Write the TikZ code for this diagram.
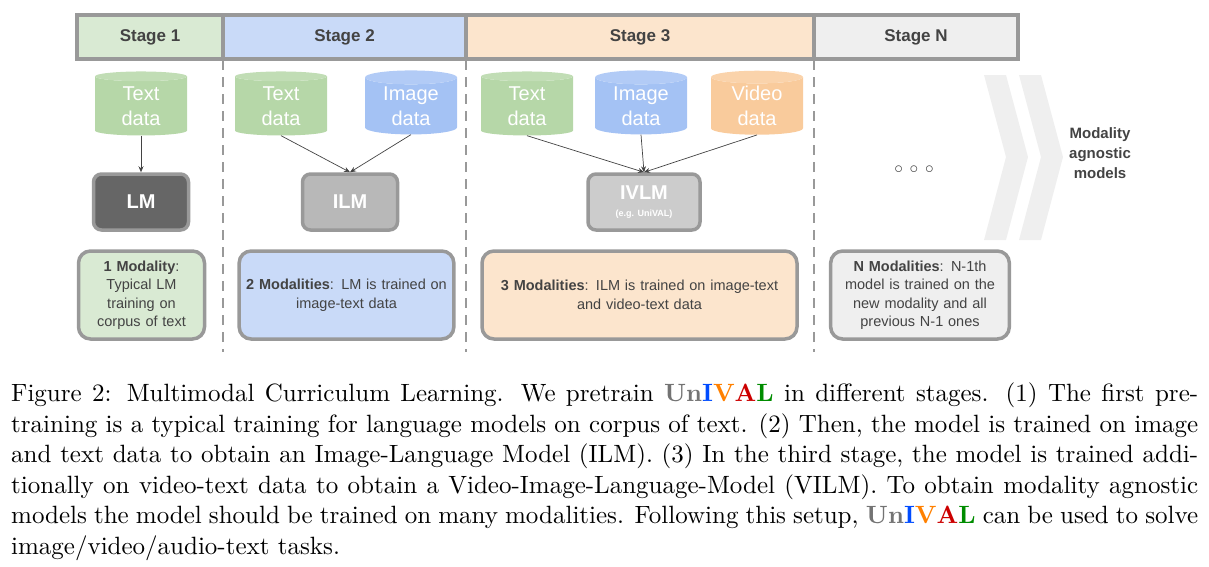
\documentclass[tikz,border=0pt]{standalone}
\usepackage{fontspec}
\newfontfamily\arial{Liberation Sans}
\newfontfamily\capfont{lmroman10-regular.otf}[BoldFont=lmroman10-bold.otf]
\usetikzlibrary{shapes.geometric,arrows.meta}
\definecolor{bord}{HTML}{999999}
\definecolor{gH}{HTML}{D9EAD3}\definecolor{gC}{HTML}{B6D7A8}
\definecolor{bH}{HTML}{C9DAF8}\definecolor{bC}{HTML}{A4C2F4}
\definecolor{oH}{HTML}{FCE5CD}\definecolor{oC}{HTML}{F9CB9C}
\definecolor{nH}{HTML}{EFEFEF}\definecolor{txt}{HTML}{434343}
\newcommand{\univalname}{\textbf{\textcolor{black!55}{Un}\textcolor{blue!70!cyan}{I}\textcolor{orange}{V}\textcolor{red!80!black}{A}\textcolor{green!55!black}{L}}}
\tikzset{
 hdr/.style={draw=bord,line width=3.5pt,minimum height=44pt,font=\arial\fontsize{17}{18}\selectfont\bfseries,text=txt},
 cyl/.style={cylinder,shape border rotate=90,aspect=0.25,minimum width=92pt,minimum height=64pt,cylinder uses custom fill,cylinder body fill=#1,cylinder end fill=#1!85!white,text=white,align=center,font=\arial\fontsize{20}{25}\selectfont,inner sep=0pt},
 model/.style={draw=bord,line width=3.5pt,rounded corners=8pt,minimum width=95pt,minimum height=56pt,text=white,font=\arial\fontsize{20}{22}\selectfont\bfseries,align=center},
 desc/.style={draw=bord,line width=3.5pt,rounded corners=12pt,minimum height=88pt,text=txt,font=\arial\fontsize{14.5}{18.5}\selectfont,align=center},
 sep/.style={draw=bord,line width=2.5pt,dash pattern=on 10pt off 7pt},
 arr/.style={draw=txt,line width=0.7pt,-{Stealth[length=6pt,width=5pt]}},
 chev/.style={fill=nH,draw=none}
}
\begin{document}
\begin{tikzpicture}[x=1pt,y=-1pt]
\useasboundingbox (0,0) rectangle (1209,566);
% headers
\node[hdr,fill=gH,minimum width=146pt] (h1) at (150,37) {Stage 1};
\node[hdr,fill=bH,minimum width=243pt] (h2) at (344.5,37) {Stage 2};
\node[hdr,fill=oH,minimum width=348pt] (h3) at (640,37) {Stage 3};
\node[hdr,fill=nH,minimum width=204pt] (hN) at (916,37) {Stage N};
% separators
\draw[sep] (223,60) -- (223,352);
\draw[sep] (466,60) -- (466,352);
\draw[sep] (814,60) -- (814,352);
% cylinders
\node[cyl=gC] (t1) at (141,106) {Text\\data};
\node[cyl=gC] (t2) at (281,106) {Text\\data};
\node[cyl=bC] (i2) at (411,106) {Image\\data};
\node[cyl=gC] (t3) at (527,106) {Text\\data};
\node[cyl=bC] (i3) at (641,106) {Image\\data};
\node[cyl=oC] (v3) at (757,106) {Video\\data};
% models
\node[model,fill=black!60] (lm) at (141,202) {LM};
\node[model,fill=black!28] (ilm) at (350,202) {ILM};
\node[model,fill=black!20,minimum width=112pt] (ivlm) at (644,202) {IVLM\\[-5pt]{\fontsize{9}{10}\selectfont (e.g. UniVAL)}};
\draw[arr] (t1.south) -- (lm.north);
\draw[arr] (t2.south) -- (ilm.north);
\draw[arr] (i2.south) -- (ilm.north);
\draw[arr] (t3.south) -- (ivlm.north);
\draw[arr] (i3.south) -- (ivlm.north);
\draw[arr] (v3.south) -- (ivlm.north);
% descriptions
\node[desc,fill=gH,minimum width=126pt,text width=118pt] (d1) at (141.5,295) {\textbf{1 Modality}:\\Typical LM\\training on\\corpus of text};
\node[desc,fill=bH,minimum width=211pt,text width=208pt] (d2) at (346.5,295) {\textbf{2 Modalities}: LM is trained on\\image-text data};
\node[desc,fill=oH,minimum width=315pt,text width=300pt] (d3) at (639.5,295) {\textbf{3 Modalities}: ILM is trained on image-text\\and video-text data};
\node[desc,fill=nH,minimum width=178pt,text width=172pt] (dN) at (920,295) {\textbf{N Modalities}: N-1th\\model is trained on the\\new modality and all\\previous N-1 ones};
% dots and chevrons
\node[font=\arial\fontsize{18}{18}\selectfont,text=txt] (dots) at (914,170) {$\circ\,\circ\,\circ$};
\fill[chev] (984,75) -- (1006,75) -- (1028,157) -- (1006,240) -- (984,240) -- (1006,157) -- cycle;
\fill[chev] (1019,75) -- (1041,75) -- (1063,157) -- (1041,240) -- (1019,240) -- (1041,157) -- cycle;
\node[font=\arial\fontsize{15}{20}\selectfont\bfseries,text=txt,align=center] (agn) at (1100,153) {Modality\\agnostic\\models};
% caption
\node[anchor=north west,inner sep=0pt,text width=1187pt,align=justify,font=\capfont\fontsize{25}{30.5}\selectfont] (cap) at (11,383) {Figure 2: Multimodal Curriculum Learning. We pretrain \univalname{} in different stages. (1) The first pretraining is a typical training for language models on corpus of text. (2) Then, the model is trained on image and text data to obtain an Image-Language Model (ILM). (3) In the third stage, the model is trained additionally on video-text data to obtain a Video-Image-Language-Model (VILM). To obtain modality agnostic models the model should be trained on many modalities. Following this setup, \univalname{} can be used to solve image/video/audio-text tasks.};
\end{tikzpicture}
\end{document}
